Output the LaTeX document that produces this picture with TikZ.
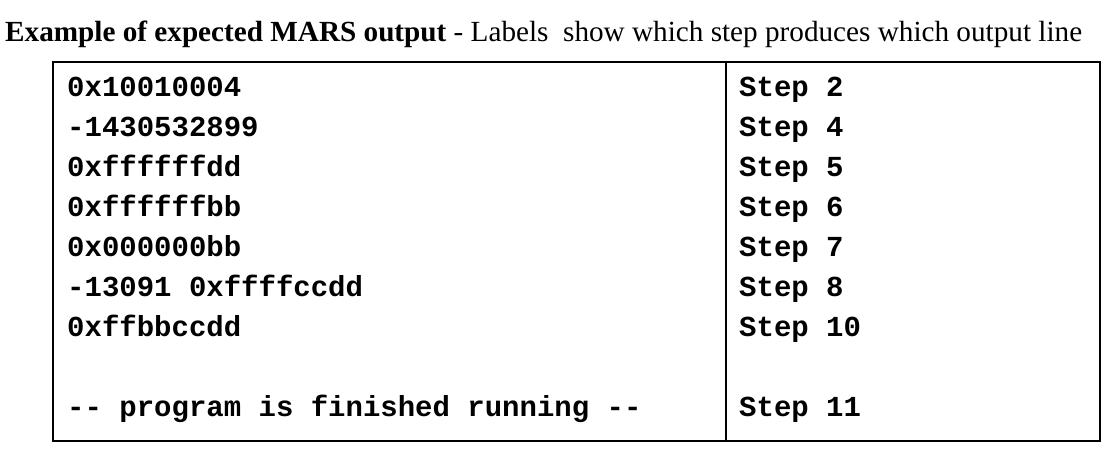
\documentclass[tikz,border=0pt]{standalone}
\usepackage{fontspec}
\setmainfont{Liberation Serif}
\newfontfamily\codefont{Liberation Mono}
\begin{document}
\begin{tikzpicture}[x=1pt,y=-1pt,
  code/.style={anchor=base west,inner sep=0pt,font=\codefont\bfseries\fontsize{29}{29}\selectfont},
  frame/.style={line width=1.6pt}]
\useasboundingbox (0,0) rectangle (1116,474);
\node[anchor=base west,inner sep=0pt,font=\fontsize{29.2}{29.2}\selectfont] (title) at (5,41) {\textbf{Example of expected MARS output} - Labels\ \ show which step produces which output line};
\draw[frame] (53,62) rectangle (1100,441);
\draw[frame] (726,62) -- (726,441);
\foreach \v/\s [count=\i] in {0x10010004/Step 2,-1430532899/Step 4,0xffffffdd/Step 5,0xffffffbb/Step 6,0x000000bb/Step 7,-13091 0xffffccdd/Step 8,0xffbbccdd/Step 10}{
  \node[code] (l\i) at (67,{96+40*(\i-1)}) {\v};
  \node[code] (r\i) at (739,{96+40*(\i-1)}) {\s};
}
\node[code] (lend) at (67,416) {-- program is finished running --};
\node[code] (rend) at (739,416) {Step 11};
\end{tikzpicture}
\end{document}
